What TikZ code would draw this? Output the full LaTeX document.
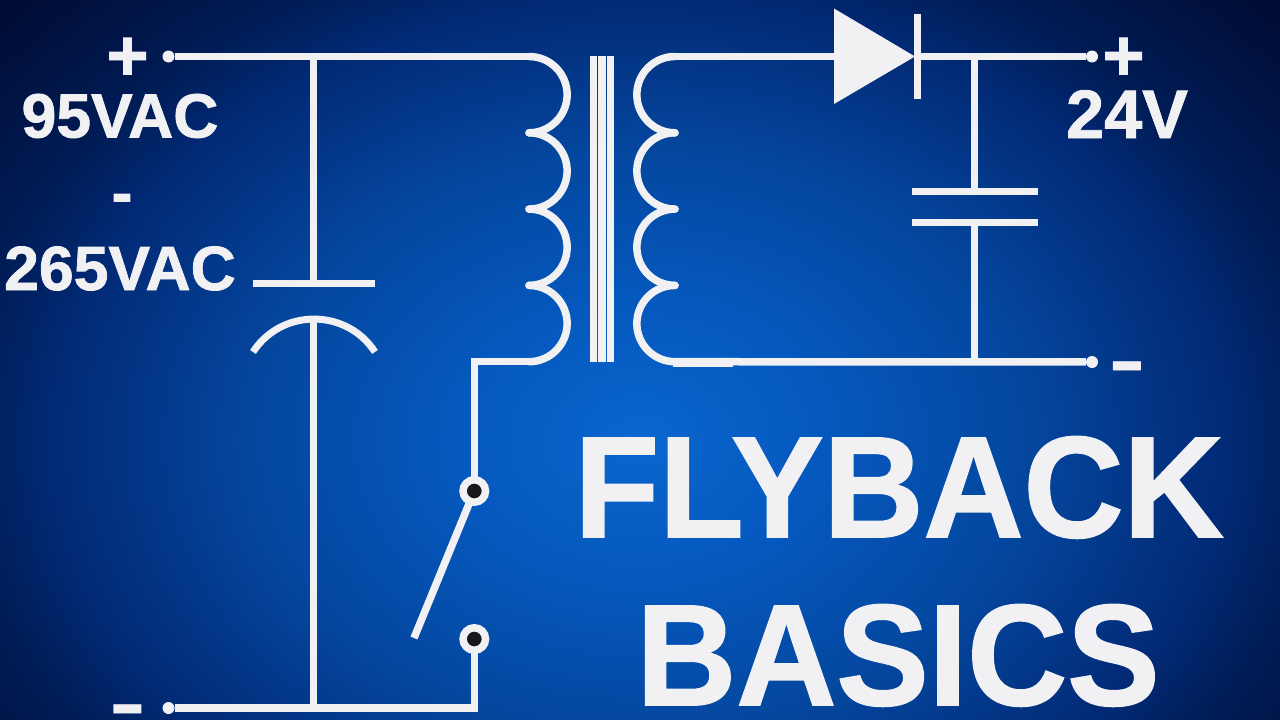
\documentclass[tikz,border=0pt]{standalone}
\usepackage{graphicx}
\usepackage{fontspec}
\setmainfont{Liberation Sans}[BoldFeatures = {FakeBold = 1.2}]
\definecolor{wire}{HTML}{F1F1F4}
\definecolor{contactdot}{HTML}{17171D}
\definecolor{glowa}{HTML}{0A66CF}
\definecolor{glowb}{HTML}{0558BD}
\definecolor{glowc}{HTML}{04479F}
\definecolor{glowd}{HTML}{022A76}
\definecolor{glowe}{HTML}{001C55}
\definecolor{glowf}{HTML}{000A30}
\pgfdeclareradialshading{glow}{\pgfpoint{0bp}{0bp}}{
	color(0bp)=(glowa);
	color(4.7bp)=(glowb);
	color(9.6bp)=(glowc);
	color(14.6bp)=(glowd);
	color(17bp)=(glowe);
	color(22bp)=(glowf);
	color(50bp)=(glowf)
}
\newcommand{\widedash}{\scalebox{1.5}[1]{-}}
\tikzset{
	wireline/.style = { draw = wire, line width = 7.5pt },
	endpoint/.style = { circle, fill = wire, inner sep = 0pt, minimum size = 12pt },
	contact/.style = { circle, draw = wire, fill = contactdot, line width = 7.5pt, inner sep = 0pt, outer sep = 0pt, minimum size = 22.5pt },
	smalltext/.style = { anchor = base, inner sep = 0pt, outer sep = 0pt, text = wire, font = \bfseries\fontsize{62.5}{62.5}\selectfont },
	plustext/.style = { smalltext, font = \bfseries\fontsize{72}{72}\selectfont },
	minustext/.style = { smalltext, font = \bfseries\fontsize{70}{70}\selectfont },
	bigtext/.style = { anchor = base, inner sep = 0pt, outer sep = 0pt, text = wire, yscale = 1.04, transform shape, font = \bfseries\fontsize{138.5}{138.5}\selectfont }
}
\begin{document}
\begin{tikzpicture}[ x = 1pt, y = -1pt ]
	\useasboundingbox ( 0, 0 ) rectangle ( 1280, 720 );
	\begin{scope}
		\clip ( 0, 0 ) rectangle ( 1280, 720 );
		\shade [ shading = glow ] ( -360, -310 ) rectangle ( 1640, 1190 );
	\end{scope}

	\node [ endpoint ] (intop) at ( 168.5, 56.5 ) {};
	\node [ endpoint ] (inbot) at ( 168.5, 708 ) {};
	\node [ endpoint ] (outtop) at ( 1092, 56.5 ) {};
	\node [ endpoint ] (outbot) at ( 1092, 362 ) {};
	\node [ contact ] (swtop) at ( 474.3, 491 ) {};
	\node [ contact ] (swbot) at ( 474.3, 639 ) {};

	\coordinate (pritop) at ( 529, 56.5 );
	\coordinate (pribot) at ( 529, 361.7 );
	\coordinate (pricorner) at ( 474.3, 361.7 );
	\coordinate (botcorner) at ( 474.3, 708 );
	\coordinate (sectop) at ( 675, 56.5 );
	\coordinate (secbot) at ( 675, 361.7 );
	\coordinate (armend) at ( 414, 638 );
	\coordinate (inputjoint) at ( 313.5, 56.5 );
	\coordinate (inputjointb) at ( 313.5, 708 );
	\coordinate (bulkl) at ( 252.5, 283.5 );
	\coordinate (bulkr) at ( 375, 283.5 );
	\coordinate (bulkmid) at ( 313.5, 283.5 );
	\coordinate (curvel) at ( 253, 352 );
	\coordinate (curver) at ( 375, 352 );
	\coordinate (curvemid) at ( 313.5, 319 );
	\coordinate (diodetip) at ( 915, 56.5 );
	\coordinate (diodetop) at ( 834, 8.5 );
	\coordinate (diodebot) at ( 834, 104 );
	\coordinate (diodein) at ( 834, 56.5 );
	\coordinate (barhigh) at ( 917.7, 14 );
	\coordinate (barlow) at ( 917.7, 98.7 );
	\coordinate (barmid) at ( 917.7, 56.5 );
	\coordinate (filtertop) at ( 974.3, 56.5 );
	\coordinate (filterbot) at ( 974.3, 362 );
	\coordinate (platea) at ( 974.3, 191.7 );
	\coordinate (plateb) at ( 974.3, 222.3 );
	\coordinate (plateal) at ( 911.7, 191.7 );
	\coordinate (platear) at ( 1037.7, 191.7 );
	\coordinate (platebl) at ( 911.7, 222.3 );
	\coordinate (platebr) at ( 1037.7, 222.3 );

	\draw [ wireline ] (intop) -- (pritop);
	\draw [ wireline ] (pribot) -- (pricorner) -- (swtop);
	\draw [ wireline ] (swbot) -- (botcorner) -- (inbot);
	\draw [ wireline ] (swtop) -- (armend);
	\draw [ wireline ] (inputjoint) -- (bulkmid);
	\draw [ wireline ] (bulkl) -- (bulkr);
	\draw [ wireline, line width = 7pt ] (curvel) to [ out = 57, in = 123, looseness = 1.1 ] (curver);
	\draw [ wireline ] (curvemid) -- (inputjointb);

	\foreach \lobe in { 56.5, 132.8, 209.1, 285.4 } {
		\draw [ wireline, line cap = round ] ( 529, \lobe ) arc [ start angle = -90, end angle = 90, radius = 38.15 ];
		\draw [ wireline, line cap = round ] ( 675, \lobe ) arc [ start angle = -90, end angle = -270, radius = 38.15 ];
	}

	\foreach \leg in { 593.5, 602.2, 610.5 } {
		\draw [ draw = wire, line width = 7.6pt ] ( \leg, 56 ) -- ( \leg, 362.3 );
	}

	\draw [ wireline ] (sectop) -- (diodein);
	\fill [ wire ] (diodetop) -- (diodetip) -- (diodebot) -- cycle;
	\draw [ wireline ] (barhigh) -- (barlow);
	\draw [ wireline ] (barmid) -- (outtop);
	\draw [ wireline ] (filtertop) -- (platea);
	\draw [ wireline ] (plateal) -- (platear);
	\draw [ wireline ] (platebl) -- (platebr);
	\draw [ wireline ] (plateb) -- (filterbot);
	\draw [ wireline ] (secbot) -- (outbot);
	\draw [ wireline ] ( 673, 363.2 ) -- ( 733, 363.2 );

	\node [ plustext ] (inplus) at ( 127.5, 80 ) {+};
	\node [ smalltext ] (lowvolt) at ( 120, 137.5 ) {95VAC};
	\node [ smalltext ] (dashvolt) at ( 122, 214 ) {-};
	\node [ smalltext ] (highvolt) at ( 120, 290 ) {265VAC};
	\node [ minustext ] (inminus) at ( 127.5, 727 ) {\widedash};
	\node [ plustext ] (outplus) at ( 1123.5, 80 ) {+};
	\node [ smalltext, font = \bfseries\fontsize{68.5}{68.5}\selectfont ] (outvolt) at ( 1127, 138 ) {24V};
	\node [ minustext ] (outminus) at ( 1127, 384 ) {\widedash};
	\node [ bigtext ] (titlea) at ( 899, 537 ) {FLYBACK};
	\node [ bigtext ] (titleb) at ( 898, 705 ) {BASICS};
\end{tikzpicture}
\end{document}
